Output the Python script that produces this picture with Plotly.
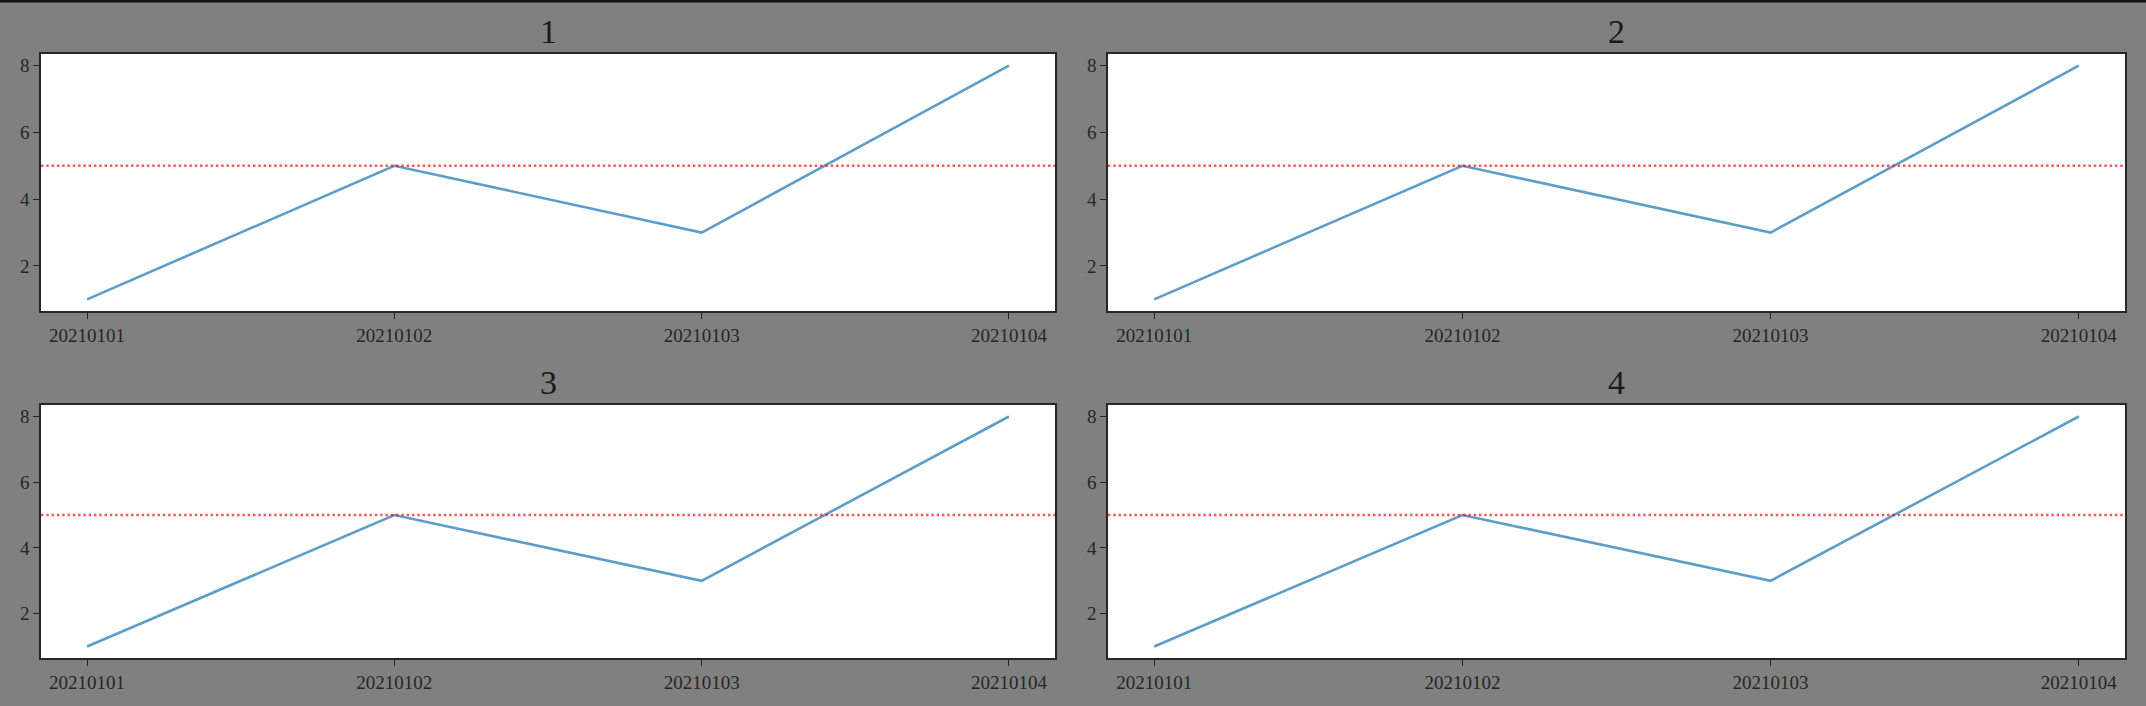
import plotly.graph_objects as go

dates = ["20210101", "20210102", "20210103", "20210104"]
values = [1, 5, 3, 8]
threshold = 5
titles = ["1", "2", "3", "4"]
y_ticks = [2, 4, 6, 8]

W, H = 2146, 706
# panel pixel boxes (left, right, top, bottom)
cols_px = [(41, 1055), (1108, 2125)]
rows_px = [(54, 311), (405, 658)]

fig = go.Figure()
font_family = "Liberation Serif, Times New Roman, serif"
spine = "#262626"

idx = 0
for r, (top, bot) in enumerate(rows_px):
    for c, (left, right) in enumerate(cols_px):
        idx += 1
        sfx = "" if idx == 1 else str(idx)
        xa = "x" + sfx
        ya = "y" + sfx
        fig.add_trace(go.Scatter(
            x=dates, y=values, mode="lines", xaxis=xa, yaxis=ya,
            line=dict(color="rgba(31,119,180,0.72)", width=2.6),
            showlegend=False, hoverinfo="skip"))
        fig.add_shape(type="line", xref=xa + " domain", yref=ya,
                      x0=0, x1=1, y0=threshold, y1=threshold,
                      line=dict(color="rgba(255,0,0,0.68)", width=2.5,
                                dash="2.4px,2.9px"),
                      layer="above")
        common = dict(showline=True, mirror=True, linecolor=spine, linewidth=1.5,
                      ticks="outside", ticklen=6, tickwidth=1.3, tickcolor=spine,
                      showgrid=False, zeroline=False,
                      tickfont=dict(family=font_family, size=19, color="#262626"))
        fig.layout["xaxis" + sfx] = dict(
            domain=[left / W, right / W], anchor=ya, type="category",
            range=[-0.15, 3.15], tickvals=dates, ticktext=dates, **common)
        fig.layout["yaxis" + sfx] = dict(
            domain=[1 - bot / H, 1 - top / H], anchor=xa,
            range=[0.65, 8.35], tickvals=y_ticks, **common)
        fig.add_annotation(
            text=titles[idx - 1], xref="paper", yref="paper",
            x=(left + right) / 2 / W, y=1 - (top - 23) / H,
            xanchor="center", yanchor="middle", showarrow=False,
            font=dict(family=font_family, size=34, color="#1a1a1a"))

fig.add_shape(type="rect", xref="paper", yref="paper", x0=0, x1=1,
              y0=1 - 2.5 / H, y1=1, fillcolor="#111111", line=dict(width=0),
              layer="above")

fig.update_layout(
    width=W, height=H, margin=dict(l=0, r=0, t=0, b=0),
    paper_bgcolor="#808080", plot_bgcolor="white",
)
fig.write_html("out.html", config={"displayModeBar": False},
               post_script="document.body.style.margin='0';document.body.style.overflow='hidden';")
